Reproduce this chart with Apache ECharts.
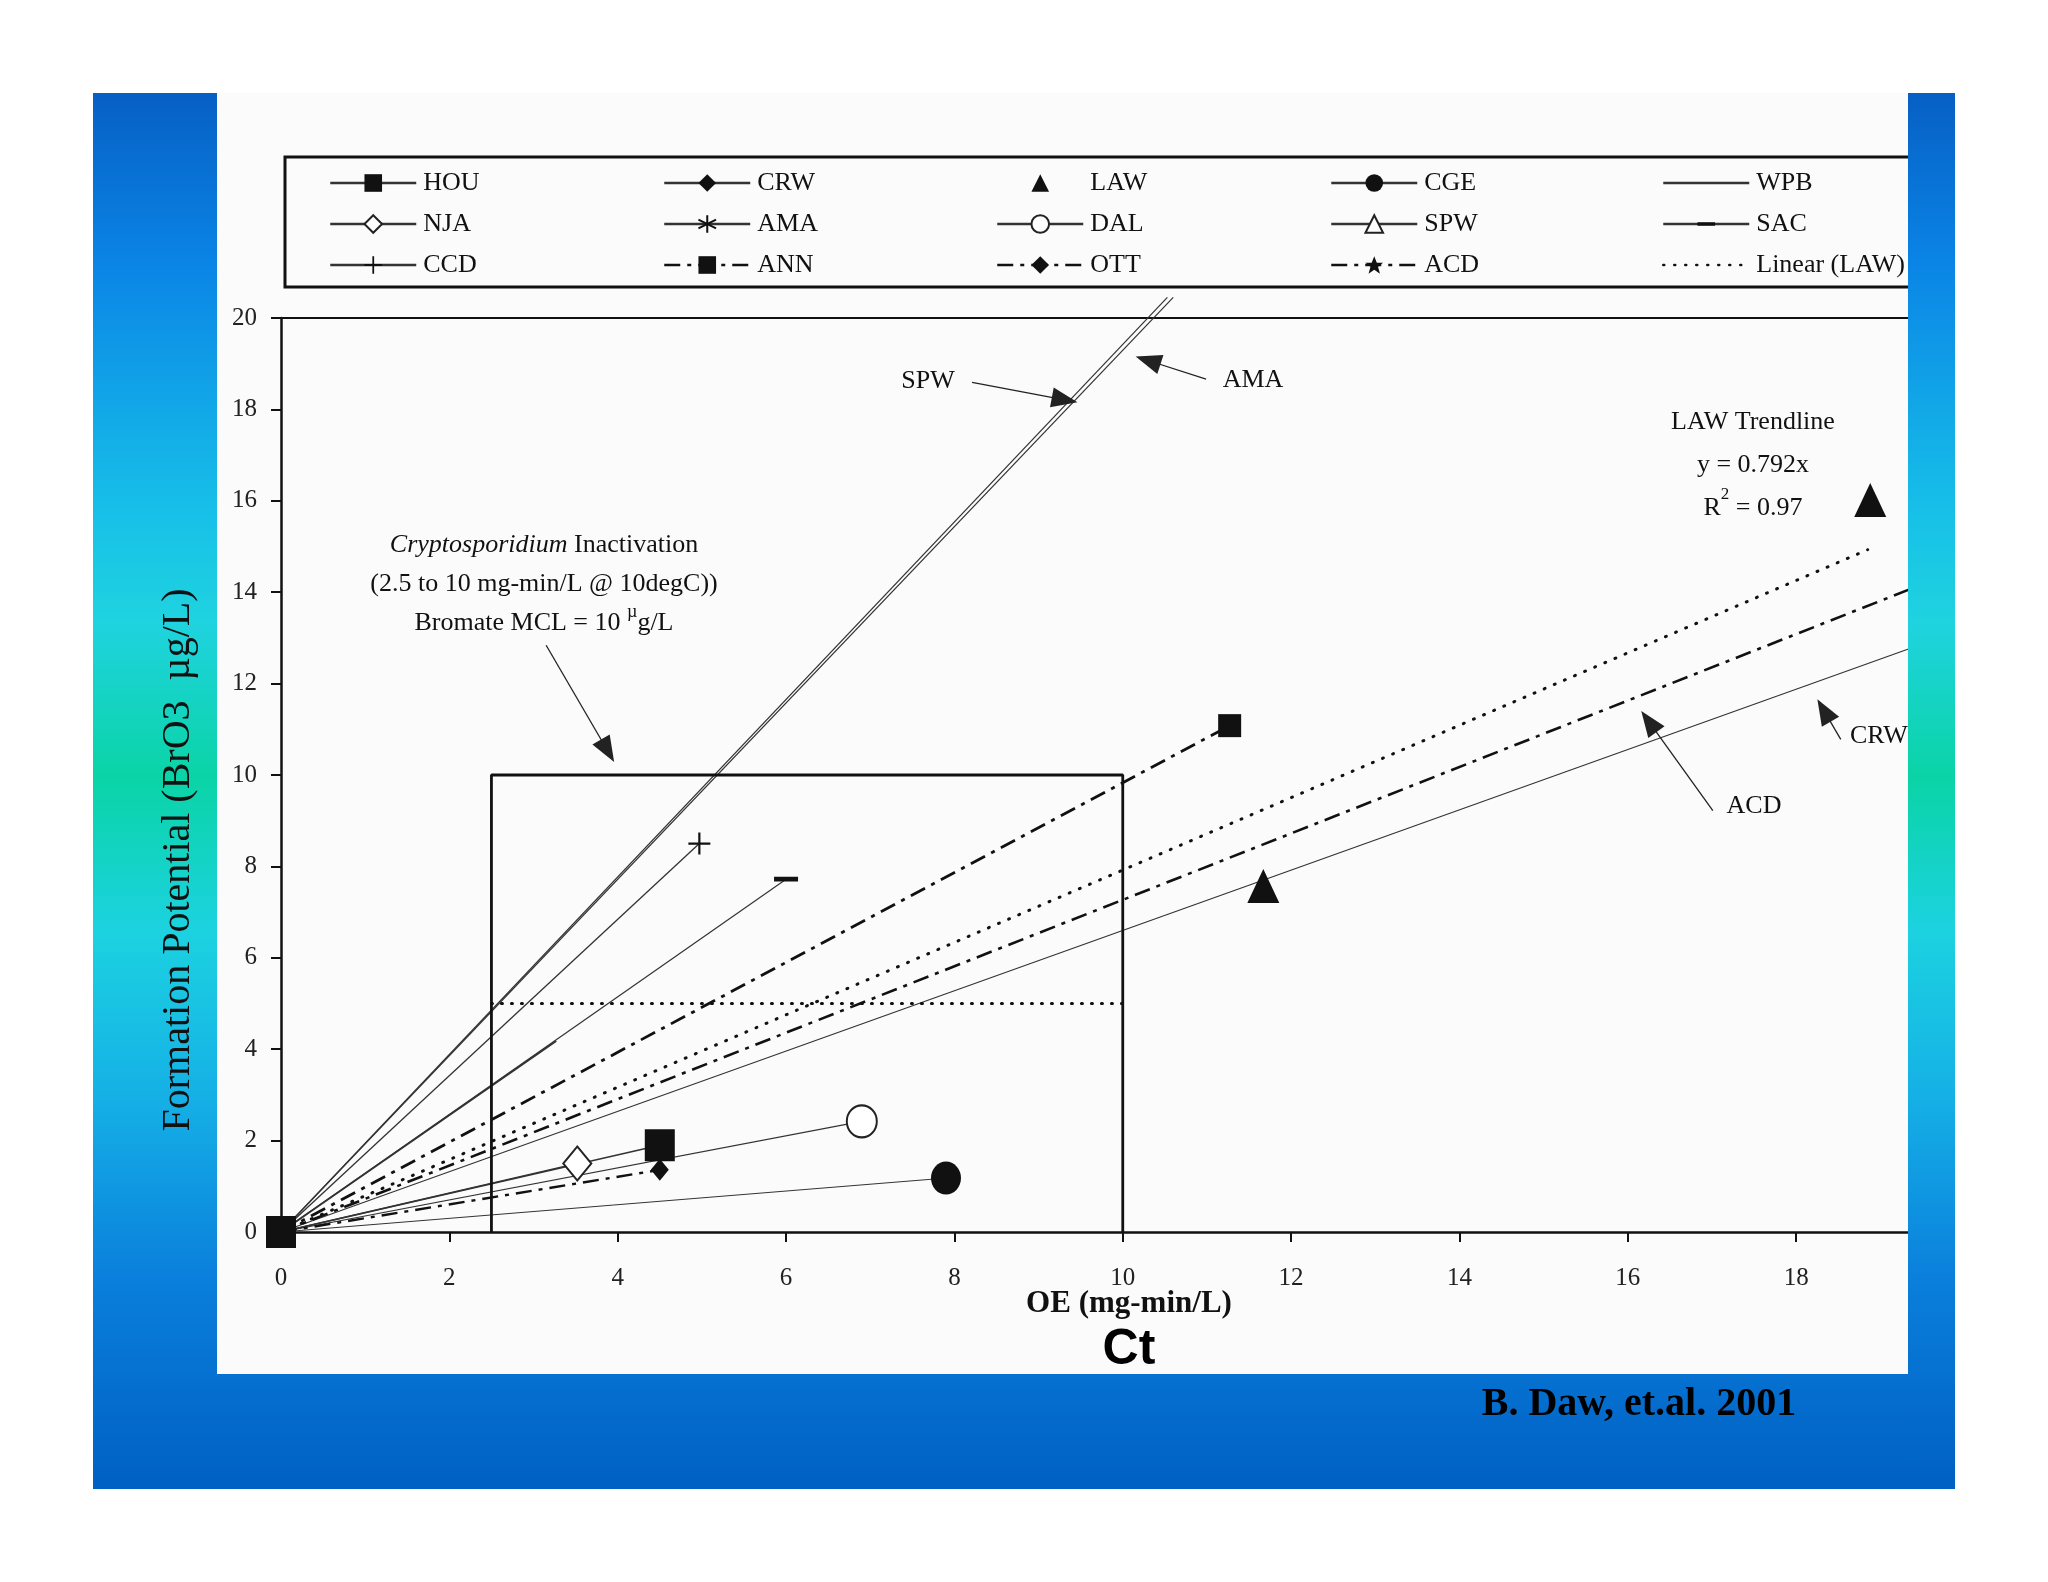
<!DOCTYPE html>
<html>
<head>
<meta charset="UTF-8">
<title>Bromate formation potential vs. ozone exposure</title>
<script src="https://cdn.jsdelivr.net/npm/echarts@6/dist/echarts.min.js"></script>
<style>
    html, body { margin: 0; padding: 0; background: #fff; }
    /* blue slide frame + white scanned page */
    #frame, #edge {
        position: absolute; top: 93px; height: 1396px;
        background: linear-gradient(to bottom, #075fc4 0%, #0a84e6 12%, #17c0e8 30%, #1fd3df 38%,
            #0ad4a6 49%, #1cd2e0 60%, #15b0e6 72%, #0a7fdc 85%, #0060c4 100%);
    }
    #frame { left: 93px; width: 1862px; }
    #edge { left: 1908px; width: 47px; z-index: 3; }   /* cuts the scan off on the right */
    #panel { position: absolute; left: 217px; top: 93px; width: 1691px; height: 1281px; background: #fbfbfb; }
    #chart { position: absolute; left: 0; top: 0; width: 2048px; height: 1582px; z-index: 2; }
</style>
</head>
<body>
<div id="frame"></div>
<div id="panel"></div>
<div id="chart"></div>
<div id="edge"></div>
<script>
// ---- data (x: OE mg-min/L, y: BrO3 µg/L) ----
var xTicks = [0, 2, 4, 6, 8, 10, 12, 14, 16, 18];
var hou = [[0, 0], [4.5, 1.9]];
var nja = [[0, 0], [3.52, 1.5]];
var ccd = [[0, 0], [4.97, 8.5]];
var crw = [[0, 0], [19.4, 12.8]];
var ama = [[0, 0], [10.6, 20.45]];
var ann = [[0, 0], [11.27, 11.08]];
var law = [[11.67, 7.57], [18.88, 16.02]];
var dal = [[0, 0], [6.9, 2.42]];
var ott = [[0, 0], [4.5, 1.36]];
var cge = [[0, 0], [7.9, 1.18]];
var spw = [[0, 0], [10.53, 20.45]];
var acd = [[0, 0], [19.4, 14.1]];
var wpb = [[0, 0], [3.27, 4.18]];
var sac = [[0, 0], [6.0, 7.72]];
var lawFit = [[0, 0], [18.85, 14.93]];
// Cryptosporidium window: 2.5-10 mg-min/L, MCL 10 µg/L, half-MCL dotted
var ctBox = [[2.5, 0], [2.5, 10], [10, 10], [10, 0]];
var halfMcl = [[2.5, 5], [10, 5]];
// callout arrows [from, to]
var arrows = [
    [[3.15, 12.84], [3.88, 10.53]],
    [[8.21, 18.59], [9.31, 18.21]],
    [[10.99, 18.66], [10.30, 19.07]],
    [[17.01, 9.22], [16.25, 11.17]],
    [[18.53, 10.78], [18.33, 11.41]]
];
var legendCols = [
    ['HOU', 'NJA', 'CCD'],
    ['CRW', 'AMA', 'ANN'],
    ['LAW', 'DAL', 'OTT'],
    ['CGE', 'SPW', 'ACD'],
    ['WPB', 'SAC', 'Linear (LAW)']
];

var SERIF = '"Liberation Serif", "DejaVu Serif", serif';
var INK = '#111';
var dashDot = [16, 7, 4, 7];
var plusPath = 'path://M9,0h2v9h9v2h-9v9h-2v-9h-9v-2h9z';
var starPath = 'path://M10,0L12.9,7H20L14.3,11.5L16.5,19L10,14.5L3.5,19L5.7,11.5L0,7H7.1Z';
var astPath = 'path://M10,0V20M1,5L19,15M1,15L19,5';
// dash marker kept inside a square box so it is not stretched
var dashPath = 'path://M0,0h0.01v0.01h-0.01z M0,8h20v4h-20z M19.99,19.99h0.01v0.01h-0.01z';

// hide the markers of the listed points (shared origin, clipped ends)
function pts(arr, hide) {
    return arr.map(function (p, i) {
        return hide.indexOf(i) >= 0 ? { value: p, symbol: 'none' } : p;
    });
}

function thin(w) { return { color: '#333', width: w || 1.3 }; }

var series = [
    { name: 'HOU', type: 'line', data: pts(hou, []), symbol: 'rect', symbolSize: [30, 32],
      lineStyle: thin(1.6), itemStyle: { color: INK } },
    { name: 'NJA', type: 'line', data: pts(nja, [0]), symbol: 'emptyDiamond', symbolSize: [28, 34],
      lineStyle: thin(), itemStyle: { color: '#222', borderWidth: 1.3 } },
    { name: 'CCD', type: 'line', data: pts(ccd, [0]), symbol: plusPath, symbolSize: 22,
      lineStyle: thin(), itemStyle: { color: INK } },
    { name: 'CRW', type: 'line', data: pts(crw, [0, 1]), symbol: 'diamond', symbolSize: 18,
      lineStyle: thin(1.2), itemStyle: { color: INK } },
    { name: 'AMA', type: 'line', data: pts(ama, [0, 1]), symbol: astPath, symbolSize: 18, clip: false,
      lineStyle: thin(1.2), itemStyle: { color: 'transparent', borderColor: INK, borderWidth: 1.5 } },
    { name: 'ANN', type: 'line', data: pts(ann, [0]), symbol: 'rect', symbolSize: 23,
      lineStyle: { color: '#111', width: 2.8, type: dashDot }, itemStyle: { color: INK } },
    { name: 'LAW', type: 'line', data: law, symbol: 'triangle', symbolSize: [32, 34],
      lineStyle: { width: 0, opacity: 0 }, itemStyle: { color: INK } },
    { name: 'DAL', type: 'line', data: pts(dal, [0]), symbol: 'emptyCircle', symbolSize: [30, 32],
      lineStyle: thin(1.1), itemStyle: { color: '#222', borderWidth: 1.4 } },
    { name: 'OTT', type: 'line', data: pts(ott, [0]), symbol: 'diamond', symbolSize: [18, 22],
      lineStyle: { color: '#111', width: 2.4, type: dashDot }, itemStyle: { color: INK } },
    { name: 'CGE', type: 'line', data: pts(cge, [0]), symbol: 'circle', symbolSize: [30, 33],
      lineStyle: thin(1), itemStyle: { color: INK } },
    { name: 'SPW', type: 'line', data: pts(spw, [0, 1]), symbol: 'emptyTriangle', symbolSize: 18, clip: false,
      lineStyle: thin(1.2), itemStyle: { color: '#222', borderWidth: 1.3 } },
    { name: 'ACD', type: 'line', data: pts(acd, [0, 1]), symbol: starPath, symbolSize: 18,
      lineStyle: { color: '#111', width: 2.6, type: dashDot }, itemStyle: { color: INK } },
    { name: 'WPB', type: 'line', data: pts(wpb, [0, 1]), symbol: 'none',
      lineStyle: thin(1.8), itemStyle: { color: INK } },
    { name: 'SAC', type: 'line', data: pts(sac, [0]), symbol: dashPath, symbolSize: 24,
      lineStyle: thin(1.2), itemStyle: { color: INK } },
    { name: 'Linear (LAW)', type: 'line', data: lawFit, symbol: 'none',
      lineStyle: { color: '#111', width: 3, type: [1, 10], cap: 'round' }, itemStyle: { color: INK } },
    // annotation layer: the Ct window and the callout arrows
    { name: 'window', type: 'line', data: ctBox, symbol: 'none', silent: true,
      lineStyle: { color: '#111', width: 2.8 } },
    { name: 'halfMcl', type: 'line', data: halfMcl, symbol: 'none', silent: true,
      lineStyle: { color: '#111', width: 3, type: [1, 9], cap: 'round' } },
    { name: 'callouts', type: 'line', data: [], silent: true,
      markLine: {
          silent: true, animation: false,
          symbol: ['none', 'triangle'], symbolSize: [20, 26],
          label: { show: false },
          lineStyle: { color: '#222', width: 1.3, type: 'solid' },
          data: arrows.map(function (a) { return [{ coord: a[0] }, { coord: a[1] }]; })
      } }
];

// legend entries: LAW has no line, WPB and the trendline have no marker
function legendItem(n) {
    if (n === 'LAW') return { name: n, lineStyle: { opacity: 0 } };
    if (n === 'WPB' || n === 'Linear (LAW)') return { name: n, itemStyle: { opacity: 0, color: 'transparent' } };
    return { name: n };
}

var legends = legendCols.map(function (names, i) {
    return {
        orient: 'vertical',
        left: [329, 663, 996, 1330, 1662][i],
        top: 170,
        padding: 0,
        itemWidth: 86,
        itemHeight: 22,
        itemGap: 15,
        selectedMode: false,
        lineStyle: { width: 2.5 },
        textStyle: { fontFamily: SERIF, fontSize: 26, color: INK, padding: [0, 0, 0, 2] },
        data: names.map(legendItem)
    };
});

var chart = echarts.init(document.getElementById('chart'), null, { renderer: 'canvas' });
chart.setOption({
    backgroundColor: 'transparent',
    animation: false,
    legend: legends,
    grid: { left: 281, top: 318, width: 1633, height: 914, containLabel: false },
    xAxis: [{
        type: 'value', min: 0, max: 19.4, interval: 2,
        axisLine: { lineStyle: { color: INK, width: 2.5 } },
        axisTick: { length: 10, lineStyle: { color: INK, width: 2 }, customValues: xTicks },
        axisLabel: { margin: 34, fontFamily: SERIF, fontSize: 25, color: '#222', customValues: xTicks,
                     formatter: function (v) { return xTicks.indexOf(v) >= 0 ? String(v) : ''; } },
        splitLine: { show: false }
    }, {
        type: 'value', position: 'top', min: 0, max: 19.4,
        axisLine: { show: true, lineStyle: { color: INK, width: 2 } },
        axisTick: { show: false }, axisLabel: { show: false }, splitLine: { show: false }
    }],
    yAxis: {
        type: 'value', min: 0, max: 20, interval: 2,
        axisLine: { lineStyle: { color: INK, width: 2.5 } },
        axisTick: { length: 10, lineStyle: { color: INK, width: 2 } },
        axisLabel: { margin: 24, fontFamily: SERIF, fontSize: 25, color: '#222' },
        splitLine: { show: false }
    },
    series: series,
    graphic: [
        // legend frame (runs off the right edge of the scan)
        { type: 'rect', shape: { x: 285, y: 157, width: 1645, height: 130 },
          style: { fill: 'none', stroke: INK, lineWidth: 3 } },
        { type: 'text', x: 178, y: 860, rotation: Math.PI / 2,
          style: { text: 'Formation Potential (BrO3  µg/L)', fontFamily: SERIF, fontSize: 40,
                   fill: '#111', align: 'center', verticalAlign: 'middle' } },
        { type: 'text', x: 1129, y: 1304,
          style: { text: 'OE (mg-min/L)', fontFamily: SERIF, fontSize: 31, fontWeight: 'bold',
                   fill: '#111', align: 'center', verticalAlign: 'middle' } },
        { type: 'text', x: 1129, y: 1350,
          style: { text: 'Ct', fontFamily: '"Liberation Sans", Arial, sans-serif', fontSize: 50,
                   fontWeight: 'bold', fill: '#000', align: 'center', verticalAlign: 'middle' } },
        { type: 'text', x: 1639, y: 1405,
          style: { text: 'B. Daw, et.al. 2001', fontFamily: SERIF, fontSize: 40, fontWeight: 'bold',
                   fill: '#000', align: 'center', verticalAlign: 'middle' } },
        { type: 'text', x: 928, y: 381,
          style: { text: 'SPW', fontFamily: SERIF, fontSize: 26, fill: '#111', align: 'center', verticalAlign: 'middle' } },
        { type: 'text', x: 1253, y: 380,
          style: { text: 'AMA', fontFamily: SERIF, fontSize: 26, fill: '#111', align: 'center', verticalAlign: 'middle' } },
        { type: 'text', x: 544, y: 584,
          style: {
              text: '{i|Cryptosporidium} Inactivation\n(2.5 to 10 mg-min/L @ 10degC))\nBromate MCL = 10 {u|µ}g/L',
              fontFamily: SERIF, fontSize: 26, lineHeight: 39, fill: '#111', align: 'center', verticalAlign: 'middle',
              rich: {
                  i: { fontFamily: SERIF, fontSize: 26, fontStyle: 'italic', fill: '#111' },
                  u: { fontFamily: SERIF, fontSize: 18, fill: '#111', verticalAlign: 'top' }
              }
          } },
        { type: 'text', x: 1753, y: 465,
          style: {
              text: 'LAW Trendline\ny = 0.792x\nR{s|2} = 0.97',
              fontFamily: SERIF, fontSize: 26, lineHeight: 43, fill: '#111', align: 'center', verticalAlign: 'middle',
              rich: { s: { fontFamily: SERIF, fontSize: 17, fill: '#111', verticalAlign: 'top' } }
          } },
        { type: 'text', x: 1754, y: 806,
          style: { text: 'ACD', fontFamily: SERIF, fontSize: 26, fill: '#111', align: 'center', verticalAlign: 'middle' } },
        { type: 'text', x: 1850, y: 736,
          style: { text: 'CRW', fontFamily: SERIF, fontSize: 26, fill: '#111', align: 'left', verticalAlign: 'middle' } }
    ]
});
</script>
</body>
</html>
